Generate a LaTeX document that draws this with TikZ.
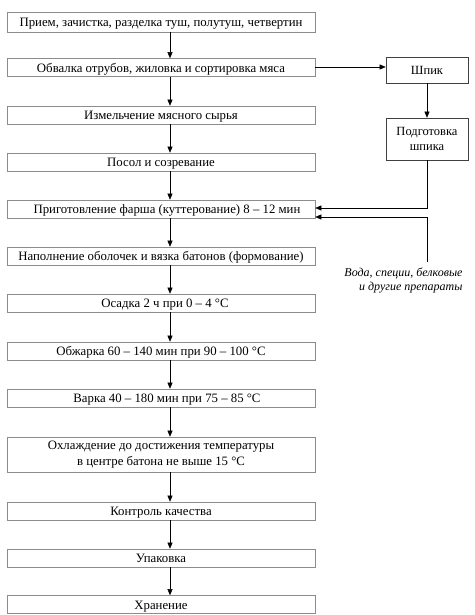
\documentclass[tikz,border=0pt]{standalone}
\usepackage{fontspec}
\setmainfont{Liberation Serif}
\usetikzlibrary{arrows.meta}
\begin{document}
\begin{tikzpicture}[x=1pt,y=-1pt,
  box/.style={draw=black!45, line width=0.6pt, minimum width=308pt, minimum height=18pt,
    inner sep=1pt, align=center, font=\fontsize{12.8}{15.5}\selectfont},
  onel/.style={text height=10.8pt, text depth=1.6pt},
  sbox/.style={draw=black!75, line width=0.6pt, minimum width=82pt, inner sep=1pt,
    align=center, font=\fontsize{12.5}{15.5}\selectfont},
  arr/.style={-{Triangle[length=6pt,width=5pt]}, line width=0.5pt},
  note/.style={align=right, font=\fontsize{12}{14}\selectfont\itshape}]
\useasboundingbox (0,0) rectangle (474,615);
\coordinate (ax) at (170,0);
\node[box, onel, minimum height=20pt] (b1) at (161,22) {Прием, зачистка, разделка туш, полутуш, четвертин};
\node[box, onel] (b2) at (161,67.5) {Обвалка отрубов, жиловка и сортировка мяса};
\node[box, onel] (b3) at (161,115) {Измельчение мясного сырья};
\node[box, onel] (b4) at (161,162) {Посол и созревание};
\node[box, onel] (b5) at (161,209) {\hspace*{12pt}Приготовление фарша (куттерование) 8 -- 12 мин};
\node[box, onel] (b6) at (161,256) {Наполнение оболочек и вязка батонов (формование)};
\node[box, onel] (b7) at (161,303) {\hspace*{8pt}Осадка 2 ч при 0 -- 4 °C};
\node[box, onel] (b8) at (161,351) {Обжарка 60 -- 140 мин при 90 -- 100 °C};
\node[box, onel] (b9) at (161,398) {\hspace*{12pt}Варка 40 -- 180 мин при 75 -- 85 °C};
\node[box, minimum height=35pt] (b10) at (161,454.5) {Охлаждение до достижения температуры\\в центре батона не выше 15 °C};
\node[box, onel] (b11) at (161,511) {Контроль качества};
\node[box, onel] (b12) at (161,558) {Упаковка};
\node[box, onel] (b13) at (161,604.5) {Хранение};

\node[sbox, minimum height=26pt] (s1) at (427,70) {Шпик};
\node[sbox, minimum height=42pt] (s2) at (427,139) {Подготовка\\шпика};
\node[note, anchor=north east] (n1) at (466,264) {Вода, специи, белковые\\и другие препараты};

\coordinate (c1) at (427,208);
\coordinate (c2) at (427,217);
\coordinate (c3) at (427,262);

\foreach \a/\b in {b1/b2,b2/b3,b3/b4,b4/b5,b5/b6,b6/b7,b7/b8,b8/b9,b9/b10,b10/b11,b11/b12,b12/b13}
  \draw[arr] (\a.south -| ax) -- (\b.north -| ax);

\draw[arr] (b2.east |- 0,67) -- (s1.west |- 0,67);
\draw[arr] (s1) -- (s2);
\draw[arr] (s2.south) -- (c1) -- (b5.east |- c1);
\draw[arr] (c3) -- (c2) -- (b5.east |- c2);
\end{tikzpicture}
\end{document}
